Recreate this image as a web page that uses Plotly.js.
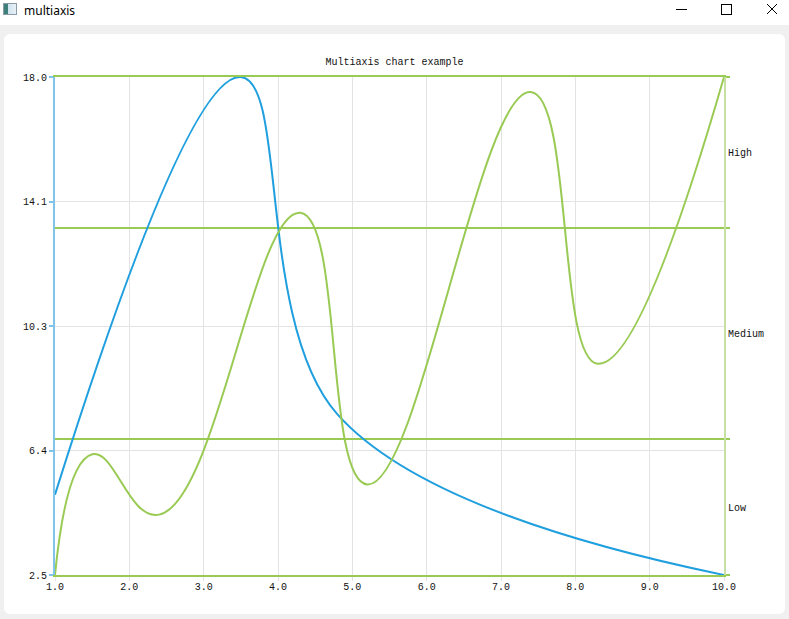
<!DOCTYPE html>
<html>
<head>
<meta charset="utf-8">
<script src="https://cdn.plot.ly/plotly-3.0.1.min.js"></script>
<style>
html,body{margin:0;padding:0;width:789px;height:619px;overflow:hidden;background:#f0f0f0;}
#titlebar{position:absolute;left:0;top:0;width:789px;height:25px;background:#ffffff;}
#wintitle{position:absolute;left:24px;top:3px;font-family:"Noto Sans","Open Sans",sans-serif;font-size:12px;color:#000;line-height:16px;}
#icon{position:absolute;left:3px;top:3px;width:14px;height:12px;border:1px solid #8a9aa6;background:linear-gradient(90deg,#3f7f7a 0%,#3f7f7a 35%,#cfe3ee 35%,#e8f1f6 100%);box-sizing:border-box;}
#card{position:absolute;left:4px;top:34px;width:781px;height:580px;background:#ffffff;border-radius:6px;}
#chart{position:absolute;left:0;top:0;width:789px;height:619px;}
svg.ctl{position:absolute;top:0;}
</style>
</head>
<body>
<div id="titlebar">
  <div id="icon"></div>
  <div id="wintitle">multiaxis</div>
  <svg class="ctl" style="left:670px" width="24" height="20"><line x1="6" y1="9.5" x2="17" y2="9.5" stroke="#000" stroke-width="1"/></svg>
  <svg class="ctl" style="left:715px" width="24" height="20"><rect x="6.5" y="4.5" width="10" height="10" fill="none" stroke="#000" stroke-width="1"/></svg>
  <svg class="ctl" style="left:761px" width="24" height="20"><line x1="6" y1="4" x2="16" y2="14" stroke="#000" stroke-width="1"/><line x1="16" y1="4" x2="6" y2="14" stroke="#000" stroke-width="1"/></svg>
</div>
<div id="card"></div>
<div id="chart"></div>
<script>
// ---- data ----
var blueX = [1, 3.5, 4.8, 10];
var blueY = [5, 18, 7.5, 2.5];
var greenX = [1, 1.5, 2.4, 4.3, 5.2, 7.4, 8.3, 10];
var greenY = [0.5, 4.5, 2.5, 12.5, 3.5, 16.5, 7.5, 17];
var xTicks = [1, 2, 3, 4, 5, 6, 7, 8, 9, 10];
var xTickText = ["1.0", "2.0", "3.0", "4.0", "5.0", "6.0", "7.0", "8.0", "9.0", "10.0"];
var yTicks = [2.5, 6.375, 10.25, 14.125, 18];
var yTickText = ["2.5", "6.4", "10.3", "14.1", "18.0"];
var catBounds = [0.5, 5, 12, 17];
var catLabels = ["Low", "Medium", "High"];

var catMid = [];
for (var i = 0; i < catLabels.length; i++) catMid.push((catBounds[i] + catBounds[i + 1]) / 2);

var BLUE = '#209fdf', GREEN = '#99ca53';
var FONT = {family: '"Liberation Mono","DejaVu Sans Mono",monospace', size: 10, color: '#111111'};

var traces = [
  {x: blueX, y: blueY, type: 'scatter', mode: 'lines', line: {color: BLUE, width: 2, shape: 'spline', smoothing: 1.1}, xaxis: 'x', yaxis: 'y', hoverinfo: 'none'},
  {x: greenX, y: greenY, type: 'scatter', mode: 'lines', line: {color: GREEN, width: 2, shape: 'spline', smoothing: 1.3}, xaxis: 'x', yaxis: 'y2', hoverinfo: 'none'},
  {x: [null], y: [null], type: 'scatter', mode: 'lines', xaxis: 'x', yaxis: 'y3', hoverinfo: 'none'}
];

var layout = {
  width: 789, height: 619,
  margin: {l: 55, r: 65, t: 77, b: 44, pad: 0},
  paper_bgcolor: 'rgba(0,0,0,0)',
  plot_bgcolor: 'rgba(0,0,0,0)',
  showlegend: false,
  font: FONT,
  title: {text: 'Multiaxis chart example', font: FONT, x: 0.5, xref: 'container', xanchor: 'center', y: 1 - 61 / 619, yref: 'container', yanchor: 'middle'},
  xaxis: {
    range: [1, 10], tickmode: 'array', tickvals: xTicks, ticktext: xTickText,
    showgrid: true, gridcolor: '#e3e3e3', gridwidth: 1, zeroline: false,
    showline: true, linecolor: GREEN, linewidth: 2, mirror: true,
    ticks: 'outside', ticklen: 4, tickcolor: '#e3e3e3',
    tickfont: FONT, ticklabelstandoff: -3
  },
  yaxis: {
    range: [2.5, 18], tickmode: 'array', tickvals: yTicks, ticktext: yTickText,
    showgrid: true, gridcolor: '#e3e3e3', gridwidth: 1, zeroline: false,
    showline: true, linecolor: '#80c4ea', linewidth: 2,
    ticks: 'outside', ticklen: 4, tickcolor: '#80c4ea', tickwidth: 2,
    tickfont: FONT, ticklabelstandoff: 0
  },
  yaxis2: {
    overlaying: 'y', side: 'right', range: [0.5, 17], tickmode: 'array', tickvals: catBounds,
    showticklabels: false, showgrid: true, gridcolor: GREEN, gridwidth: 2, zeroline: false,
    showline: true, linecolor: '#c6e0a3', linewidth: 2,
    ticks: 'outside', ticklen: 4, tickcolor: GREEN, tickwidth: 2
  },
  yaxis3: {
    overlaying: 'y', side: 'right', range: [0.5, 17], tickmode: 'array', tickvals: catMid, ticktext: catLabels,
    showgrid: false, zeroline: false, showline: false, ticks: '', tickfont: FONT, ticklabelstandoff: 3
  }
};

Plotly.newPlot('chart', traces, layout, {staticPlot: true, displayModeBar: false});
</script>
</body>
</html>
